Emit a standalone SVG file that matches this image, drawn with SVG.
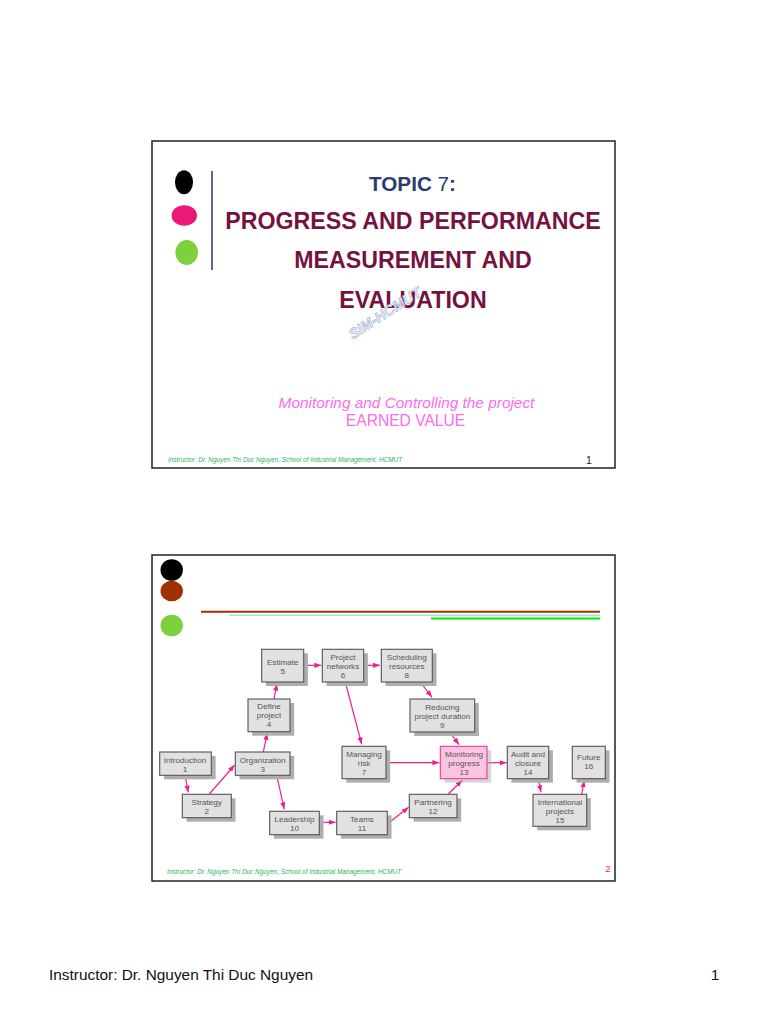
<svg xmlns="http://www.w3.org/2000/svg" width="768" height="1024" viewBox="0 0 768 1024">
<style>
text{font-family:"Liberation Sans",Arial,sans-serif}
.slide{fill:#fff;stroke:#222;stroke-width:1.5}
.title{font-weight:bold;font-size:23.2px;fill:#76123f;text-anchor:middle}
.foot{font-style:italic;font-size:6.42px;fill:#1fb55f}
.box{fill:#e1e1e1;stroke:#555;stroke-width:1.1}
.hot{fill:#fcc4e0;stroke:#f0399c;stroke-width:1.1}
.sh{fill:#aeaeae}
.lb{font-size:8.1px;fill:#555;text-anchor:middle}
.c{stroke:#f01e90;stroke-width:1.2;fill:none;marker-end:url(#a)}
</style>
<defs><marker id="a" viewBox="0 0 8 6" refX="8" refY="3" markerWidth="7" markerHeight="5.2" markerUnits="userSpaceOnUse" orient="auto"><path d="M0 0L8 3L0 6z" fill="#f01e90"/></marker></defs>
<rect width="768" height="1024" fill="#fff"/>
<g id="slide1">
<rect class="slide" x="152" y="141" width="463" height="327"/>
<ellipse cx="184" cy="182.3" rx="9" ry="12"/>
<ellipse cx="184.3" cy="215.5" rx="12.7" ry="10.3" fill="#ec1878"/>
<ellipse cx="186.7" cy="252.5" rx="11.3" ry="12.5" fill="#7ed03c"/>
<path d="M212 171V270" stroke="#4a5a80" stroke-width="1.8"/>
<text x="412.500" y="191" font-size="20.700" font-weight="bold" text-anchor="middle" fill="#2c3c70">TOPIC <tspan font-weight="normal">7</tspan>:</text>
<text class="title" x="413" y="229">PROGRESS AND PERFORMANCE</text>
<text class="title" x="413" y="268">MEASUREMENT AND</text>
<text class="title" x="413" y="308">EVALUATION</text>
<text x="385.500" y="318" font-size="14.500" font-style="italic" font-weight="bold" fill="#eef2fa" stroke="#8ea2cc" stroke-width=".5" text-anchor="middle" transform="rotate(-32.600 385.500 314)">SIM-HCMUT</text>
<text x="406.500" y="408" font-size="15.400" font-style="italic" fill="#fb6cf0" text-anchor="middle">Monitoring and Controlling the project</text>
<text x="405.500" y="426" font-size="15.600" fill="#fb6cf0" text-anchor="middle">EARNED VALUE</text>
<text class="foot" x="168" y="462">Instructor: Dr. Nguyen Thi Duc Nguyen, School of Industrial Management, HCMUT</text>
<text x="589" y="464" font-size="10.500" fill="#222" text-anchor="middle">1</text>
</g>
<g id="slide2">
<rect class="slide" x="152" y="555" width="463" height="326"/>
<ellipse cx="171.700" cy="570" rx="11.200" ry="10.800"/>
<ellipse cx="171.700" cy="591" rx="11.200" ry="10.300" fill="#a03000"/>
<ellipse cx="171.700" cy="625.500" rx="11.200" ry="10.800" fill="#7ed03c"/>
<path d="M201 611.700H600" stroke="#a03000" stroke-width="2"/>
<path d="M229 615.200H600" stroke="#6fd8c8" stroke-width="1"/>
<path d="M431 618.500H600" stroke="#00f000" stroke-width="2"/>
<text class="foot" x="167" y="874">Instructor: Dr. Nguyen Thi Duc Nguyen, School of Industrial Management, HCMUT</text>
<text x="608" y="872" font-size="9.500" fill="#ee2a2a" text-anchor="middle">2</text>
</g>
<g id="connectors">
<path class="c" d="M185 775.300L188.300 792.500"/>
<path class="c" d="M209.300 794L234.700 765"/>
<path class="c" d="M263.300 752L267.300 733"/>
<path class="c" d="M274 699L277 683.700"/>
<path class="c" d="M303.700 665.300H321.300"/>
<path class="c" d="M363.700 665.300H380"/>
<path class="c" d="M345.300 682L361.700 744.300"/>
<path class="c" d="M276.700 775.300L284.300 809.300"/>
<path class="c" d="M319.300 822.300H335.700"/>
<path class="c" d="M387.300 824L408.700 807.300"/>
<path class="c" d="M448.300 794L462.300 780.300"/>
<path class="c" d="M386 762.700H439.300"/>
<path class="c" d="M420.300 682L432 697.300"/>
<path class="c" d="M449.700 732L459 744.700"/>
<path class="c" d="M487 762.700H506.700"/>
<path class="c" d="M538.300 778.700L541 792.300"/>
<path class="c" d="M581.700 794L584.300 780.300"/>
</g>
<g id="n1"><rect class="sh" x="164" y="756" width="51.600" height="23.300"/><rect class="box" x="159.700" y="752" width="51.600" height="23.300"/><text class="lb" x="185" y="762.500">Introduction</text><text class="lb" x="185" y="771.500">1</text></g>
<g id="n2"><rect class="sh" x="186.500" y="798.300" width="49" height="23.400"/><rect class="box" x="182.300" y="794.300" width="49" height="23.400"/><text class="lb" x="206.700" y="805">Strategy</text><text class="lb" x="206.700" y="814">2</text></g>
<g id="n3"><rect class="sh" x="239.500" y="756" width="54.700" height="23.300"/><rect class="box" x="235.300" y="752" width="54.700" height="23.300"/><text class="lb" x="262.700" y="762.500">Organization</text><text class="lb" x="262.700" y="771.500">3</text></g>
<g id="n4"><rect class="sh" x="252.200" y="703" width="42" height="32.700"/><rect class="box" x="248" y="699" width="42" height="32.700"/><text class="lb" x="269" y="709">Define</text><text class="lb" x="269" y="718">project</text><text class="lb" x="269" y="726.500">4</text></g>
<g id="n5"><rect class="sh" x="265.900" y="653.300" width="42" height="32.700"/><rect class="box" x="261.700" y="649.300" width="42" height="32.700"/><text class="lb" x="282.700" y="665">Estimate</text><text class="lb" x="282.700" y="674">5</text></g>
<g id="n6"><rect class="sh" x="326.500" y="653.300" width="41.400" height="32.700"/><rect class="box" x="322.300" y="649.300" width="41.400" height="32.700"/><text class="lb" x="343" y="660">Project</text><text class="lb" x="343" y="669">networks</text><text class="lb" x="343" y="678">6</text></g>
<g id="n8"><rect class="sh" x="385.500" y="653.300" width="51" height="32.700"/><rect class="box" x="381.300" y="649.300" width="51" height="32.700"/><text class="lb" x="406.800" y="660">Scheduling</text><text class="lb" x="406.800" y="669">resources</text><text class="lb" x="406.800" y="678">8</text></g>
<g id="n9"><rect class="sh" x="414.200" y="703" width="64.700" height="33"/><rect class="box" x="410" y="699" width="64.700" height="33"/><text class="lb" x="442.300" y="710">Reducing</text><text class="lb" x="442.300" y="719">project duration</text><text class="lb" x="442.300" y="727.500">9</text></g>
<g id="n7"><rect class="sh" x="346.200" y="750.300" width="44" height="32.400"/><rect class="box" x="342" y="746.300" width="44" height="32.400"/><text class="lb" x="364" y="757">Managing</text><text class="lb" x="364" y="766">risk</text><text class="lb" x="364" y="775">7</text></g>
<g id="n13"><rect class="sh" x="444.500" y="750.300" width="46.700" height="32.400" fill-opacity=".5"/><rect class="hot" x="440.300" y="746.300" width="46.700" height="32.400"/><text class="lb" x="464" y="757">Monitoring</text><text class="lb" x="464" y="766">progress</text><text class="lb" x="464" y="775">13</text></g>
<g id="n14"><rect class="sh" x="511.500" y="750.300" width="41.400" height="32.400"/><rect class="box" x="507.300" y="746.300" width="41.400" height="32.400"/><text class="lb" x="528" y="757">Audit and</text><text class="lb" x="528" y="766">closure</text><text class="lb" x="528" y="775">14</text></g>
<g id="n16"><rect class="sh" x="576.500" y="750.300" width="33" height="32.400"/><rect class="box" x="572.300" y="746.300" width="33" height="32.400"/><text class="lb" x="588.700" y="760">Future</text><text class="lb" x="588.700" y="769">16</text></g>
<g id="n10"><rect class="sh" x="273.900" y="815.300" width="49.600" height="23.400"/><rect class="box" x="269.700" y="811.300" width="49.600" height="23.400"/><text class="lb" x="294.500" y="822">Leadership</text><text class="lb" x="294.500" y="831">10</text></g>
<g id="n11"><rect class="sh" x="340.900" y="815.300" width="50.600" height="23.400"/><rect class="box" x="336.700" y="811.300" width="50.600" height="23.400"/><text class="lb" x="362" y="822">Teams</text><text class="lb" x="362" y="831">11</text></g>
<g id="n12"><rect class="sh" x="413.500" y="798.300" width="47.700" height="23.400"/><rect class="box" x="409.300" y="794.300" width="47.700" height="23.400"/><text class="lb" x="433" y="805">Partnering</text><text class="lb" x="433" y="814">12</text></g>
<g id="n15"><rect class="sh" x="537.200" y="798.300" width="53.700" height="32"/><rect class="box" x="533" y="794.300" width="53.700" height="32"/><text class="lb" x="560" y="805">International</text><text class="lb" x="560" y="814">projects</text><text class="lb" x="560" y="822.500">15</text></g>
<g id="page">
<text x="49" y="979.500" font-size="15.400" fill="#111">Instructor: Dr. Nguyen Thi Duc Nguyen</text>
<text x="715" y="979.500" font-size="15.400" fill="#111" text-anchor="middle">1</text>
</g>
</svg>
